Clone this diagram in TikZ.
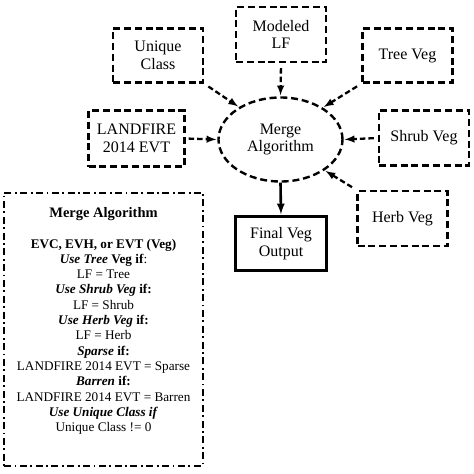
\documentclass[tikz,border=0pt]{standalone}
\usepackage{fontspec}
\setmainfont{Liberation Serif}
\usetikzlibrary{shapes.geometric, positioning, arrows}

\begin{document}
\begin{tikzpicture}[x=1pt, y=-1pt, font=\fontsize{16}{17.5}\selectfont,
    inbox/.style={draw, line width=2.4pt, dash pattern=on 7pt off 3.8pt,
      align=center, inner sep=0pt, minimum height=54pt, minimum width=#1},
    inbox/.default=90pt,
    outbox/.style={draw, line width=2.6pt, align=center, inner sep=0pt,
      minimum width=91pt, minimum height=54pt},
    feed/.style={line width=2.3pt, dash pattern=on 5.5pt off 3pt, -latex},
    algobox/.style={draw, line width=2pt, dash pattern=on 7pt off 3.5pt on 1.8pt off 3.5pt,
      minimum width=199pt, minimum height=273pt, inner sep=0pt}]

    \useasboundingbox (0,0) rectangle (474,474);

    % Inputs
    \node[inbox] (unique) at (158,55.5) {Unique\\Class};
    \node[inbox, minimum height=55pt] (modeled) at (281,34.5) {Modeled\\LF};
    \node[inbox] (tree) at (407.5,55.5) {Tree Veg};
    \node[inbox=96pt, minimum height=56pt] (landfire) at (136.5,138.5) {LANDFIRE\\2014 EVT};
    \node[inbox, minimum height=55pt] (shrub) at (424,138) {Shrub Veg};
    \node[inbox, minimum height=55pt] (herb) at (402.5,218.5) {Herb Veg};

    % Merge and output
    \node[ellipse, draw, line width=2.4pt, dash pattern=on 7pt off 3.8pt, align=center,
      inner sep=0pt, minimum width=124pt, minimum height=84pt] (merge) at (280.5,139.5) {Merge\\Algorithm};
    \node[outbox] (final) at (281,243.5) {Final Veg\\Output};

    \draw[feed, shorten <=5pt, shorten >=1pt] (unique.south east) -- (merge.142);
    \draw[feed, shorten <=5pt, shorten >=1pt] (modeled.south) -- (merge.north);
    \draw[feed, shorten <=5pt, shorten >=1pt] (tree.south west) -- (merge.37);
    \draw[feed, shorten <=3pt, shorten >=1pt] (landfire.east) -- (merge.west);
    \draw[feed, shorten <=4pt, shorten >=1pt] (shrub.west) -- (merge.east);
    \draw[feed, shorten <=5pt, shorten >=1pt] (herb.north west) -- (merge.-35);
    \draw[line width=2.6pt, -latex, shorten >=1pt] (merge.south) -- (final.north);

    % Rule box
    \node[algobox] (algo) at (103.5,329) {};
    \node[anchor=north, align=center, inner sep=0pt, font=\fontsize{13.2}{15.3}\selectfont]
      (rules) at ([yshift=-16pt]algo.north) {%
      {\fontsize{14.5}{17}\selectfont\bfseries Merge Algorithm}\\[15pt]
      \textbf{EVC, EVH, or EVT (Veg)}\\
      \textbf{\textit{Use Tree} Veg if}:\\
      LF = Tree\\
      \textbf{\textit{Use Shrub Veg} if:}\\
      LF = Shrub\\
      \textbf{\textit{Use Herb Veg} if:}\\
      LF = Herb\\
      \textbf{\textit{Sparse} if:}\\
      LANDFIRE 2014 EVT = Sparse\\
      \textbf{\textit{Barren} if:}\\
      LANDFIRE 2014 EVT = Barren\\
      \textbf{\textit{Use Unique Class if}}\\
      Unique Class != 0};
\end{tikzpicture}
\end{document}
